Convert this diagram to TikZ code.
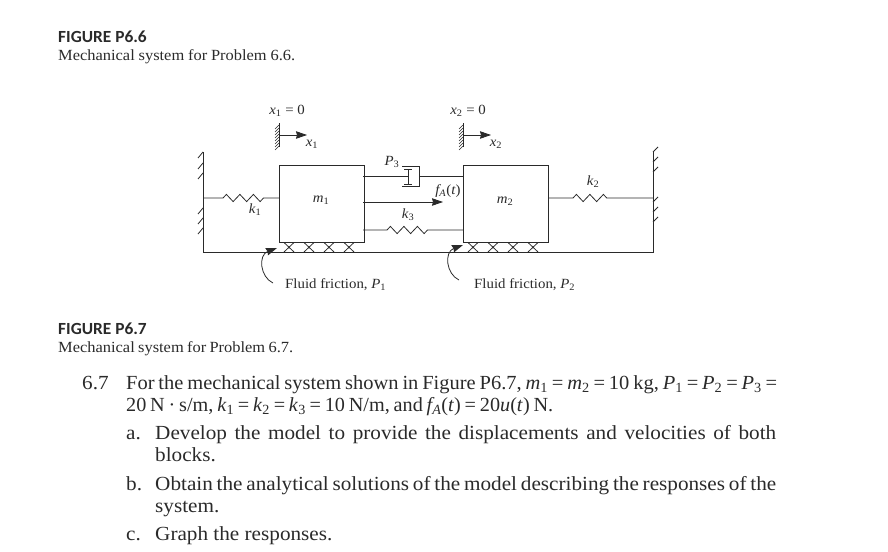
\documentclass[tikz,border=0pt]{standalone}
\usepackage{xcolor}
\usepackage{fontspec}
\usepackage{amsmath}
\usepackage{graphicx}
\usepackage{tikz}
\usetikzlibrary{arrows.meta,decorations.pathmorphing}
\setmainfont[FakeStretch=1.06]{Liberation Serif}
\newfontfamily\headfont[FakeStretch=1.02]{Carlito}
\definecolor{ink}{HTML}{2A2A2A}
\newcommand{\sym}[2]{\textit{#1}\textsubscript{#2}}
\newcommand{\bodysize}{\fontsize{20}{22}\selectfont}
\newcommand{\linefit}[2]{\makebox[#1pt][s]{#2}}
\newcommand{\linesqueeze}[2]{\resizebox{#1pt}{\height}{\spaceskip=.2em\relax #2}}
\tikzset{
  every node/.style={inner sep=0pt, text=ink},
  mass/.style={draw=ink, line width=0.9pt, fill=white, anchor=north west, minimum width=84.5pt, minimum height=77pt},
  wire/.style={draw=ink, line width=0.8pt},
  spring/.style 2 args={wire, decorate, decoration={zigzag, segment length=13.5pt, amplitude=3.6pt, pre length=#1, post length=#2}},
  hatch/.style={draw=ink, line width=0.8pt},
  tip/.style={-{Stealth[length=11pt,width=7.5pt,inset=1pt]}},
  small/.style={font=\fontsize{14}{16}\selectfont},
  body/.style={anchor=base west, font=\bodysize},
  head/.style={anchor=base west, font=\headfont\bfseries\fontsize{17}{19}\selectfont},
  caption/.style={anchor=base west, font=\fontsize{15.5}{17}\selectfont}
}
\begin{document}
\begin{tikzpicture}[x=1pt, y=-1pt]
\useasboundingbox (0,0) rectangle (888,551);
% Page text above the figure
\node[head] (headA) at (58,42) {FIGURE P6.6};
\node[caption] (capA) at (58,60) {\linefit{237}{Mechanical system for Problem 6.6.}};

% Walls and floor
\coordinate (wallLtop) at (203,152);
\coordinate (wallLbot) at (203,252);
\coordinate (wallRtop) at (653,152);
\coordinate (wallRbot) at (653,252);
\draw[wire] (wallLtop) -- (wallLbot) -- (wallRbot) -- (wallRtop);
\foreach \y in {152,163,173,208,218,228}
  \draw[hatch] (203,\y) -- ++(-5,6);
\foreach \y in {152,162,172,202,212,222}
  \draw[hatch] (653,\y) -- ++(5,-5);

% Blocks
\node[mass] (m1) at (279,165) {};
\node[mass] (m2) at (463,165) {};
\node[small] (lm1) at (321,200) {\sym{m}{1}};
\node[small] (lm2) at (505,201) {\sym{m}{2}};

% Rollers under the blocks
\foreach \x in {289,309,329,349,473,493,513,533} {
  \draw[hatch] (\x-5,242.5) -- (\x+5,252);
  \draw[hatch] (\x+5,242.5) -- (\x-5,252);
}

% Springs
\coordinate (k1a) at (203,198);
\coordinate (k1b) at (279,198);
\coordinate (k2a) at (548,198);
\coordinate (k2b) at (653,198);
\coordinate (k3a) at (363,230);
\coordinate (k3b) at (463,230);
\draw[spring={20pt}{14pt}] (k1a) -- (k1b);
\draw[spring={25pt}{40pt}] (k2a) -- (k2b);
\draw[spring={24pt}{35pt}] (k3a) -- (k3b);
\node[small] (lk1) at (255,210) {\sym{k}{1}};
\node[small] (lk2) at (593,182) {\sym{k}{2}};
\node[small] (lk3) at (408,215) {\sym{k}{3}};

% Damper P3
\coordinate (rodA) at (363,176);
\coordinate (rodB) at (408,176);
\coordinate (rodC) at (419,176);
\coordinate (rodD) at (463,176);
\draw[wire] (rodA) -- (rodB);
\draw[wire] (408,169) -- (408,184);
\draw[wire] (404,169) -- (412,169);
\draw[wire] (404,184) -- (412,184);
\draw[wire] (402,166) -- (419,166) -- (419,186) -- (402,186);
\draw[wire] (rodC) -- (rodD);
\node[small] (lP3) at (392,162) {\sym{P}{3}};

% Applied force
\coordinate (fA) at (363,202);
\coordinate (fB) at (443,202);
\draw[wire, tip] (fA) -- (fB);
\node[small] (lf) at (448,191) {\textit{f\textsubscript{A}}(\textit{t})};

% Reference marks
\foreach \n/\x/\lx in {1/279/287, 2/463/468} {
  \coordinate (ref\n) at (\x,135);
  \coordinate (dir\n) at (\x+28,135);
  \draw[wire] (\x,123) -- (\x,147);
  \foreach \y in {125,128,...,146}
    \draw[draw=ink, line width=0.5pt] (\x,\y) -- ++(-4,4);
  \draw[wire, tip] (ref\n) -- (dir\n);
  \node[small] (zero\n) at (\lx,111) {\sym{x}{\n} = 0};
  \node[small] (lx\n) at (\x+33,144) {\sym{x}{\n}};
}

% Fluid friction
\node[small, anchor=base west] (fric1) at (285,288) {Fluid friction, \sym{P}{1}};
\node[small, anchor=base west] (fric2) at (474,288) {Fluid friction, \sym{P}{2}};
\coordinate (fr1) at (277,248);
\coordinate (fr2) at (463,245);
\draw[wire, tip] (273,283) .. controls (260,277) and (258,255) .. (fr1);
\draw[wire, tip] (459,280) .. controls (446,274) and (444,252) .. (fr2);

% Page text below the figure
\node[head] (headB) at (58,334) {FIGURE P6.7};
\node[caption] (capB) at (58,352) {\linefit{235}{Mechanical system for Problem 6.7.}};
\node[body] (num) at (82,389) {6.7};
\node[body] (l1) at (126,389) {\linesqueeze{651}{For the mechanical system shown in Figure P6.7, \sym{m}{1} = \sym{m}{2} = 10 kg, \sym{P}{1} = \sym{P}{2} = \sym{P}{3} =}};
\node[body] (l2) at (126,411) {\linesqueeze{427}{20 N · s/m, \sym{k}{1} = \sym{k}{2} = \sym{k}{3} = 10 N/m, and \textit{f\textsubscript{A}}(\textit{t}) = 20\textit{u}(\textit{t}) N.}};
\node[body] (la) at (126,439) {a.};
\node[body] (l3) at (155,439) {\linefit{621}{Develop the model to provide the displacements and velocities of both}};
\node[body] (l4) at (155,461) {blocks.};
\node[body] (lb) at (126,490) {b.};
\node[body] (l5) at (155,490) {\linefit{621}{Obtain the analytical solutions of the model describing the responses of the}};
\node[body] (l6) at (155,512) {system.};
\node[body] (lc) at (126,540) {c.};
\node[body] (l7) at (155,540) {Graph the responses.};
\end{tikzpicture}
\end{document}
